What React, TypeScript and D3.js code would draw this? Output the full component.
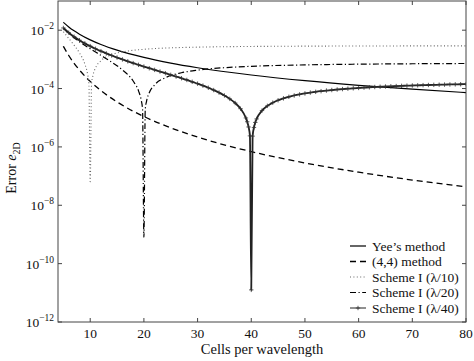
import React from "react";
import * as d3 from "d3";

// ---------- data ----------
const N_YEE = [5, 6, 7, 8, 10, 12, 15, 20, 25, 30, 40, 50, 60, 70, 80];
const E_YEE = [1.86e-2, 1.292e-2, 9.49e-3, 7.27e-3, 4.65e-3, 3.23e-3, 2.067e-3, 1.163e-3, 7.44e-4, 5.17e-4, 2.91e-4, 1.86e-4, 1.29e-4, 9.49e-5, 7.27e-5];

const N_44 = [5, 6, 7, 8, 10, 12, 15, 20, 25, 30, 40, 50, 60, 70, 80];
const E_44 = [2.816e-3, 1.358e-3, 7.33e-4, 4.3e-4, 1.76e-4, 8.49e-5, 3.48e-5, 1.1e-5, 4.51e-6, 2.17e-6, 6.88e-7, 2.82e-7, 1.36e-7, 7.33e-8, 4.3e-8];

const N_S10 = [5, 6, 7, 8, 9, 9.5, 9.75, 10, 10.25, 10.5, 11, 12, 14, 17, 20, 25, 30, 40, 60, 80];
const E_S10 = [8.85e-3, 5.24e-3, 3.07e-3, 1.66e-3, 6.92e-4, 3.19e-4, 1.53e-4, 5.7e-8, 1.42e-4, 2.74e-4, 5.12e-4, 9.01e-4, 1.445e-3, 1.93e-3, 2.21e-3, 2.48e-3, 2.62e-3, 2.77e-3, 2.87e-3, 2.9e-3];

const N_S20 = [5, 6, 7, 8, 10, 12, 14, 16, 18, 19, 19.5, 19.75, 20, 20.25, 20.5, 21, 22, 24, 27, 30, 35, 40, 50, 60, 70, 80];
const E_S20 = [1.155e-2, 7.79e-3, 5.52e-3, 4.04e-3, 2.31e-3, 1.37e-3, 8.02e-4, 4.33e-4, 1.81e-4, 8.32e-5, 4.0e-5, 1.96e-5, 8.1e-10, 1.89e-5, 3.71e-5, 7.16e-5, 1.34e-4, 2.35e-4, 3.47e-4, 4.28e-4, 5.19e-4, 5.78e-4, 6.47e-4, 6.84e-4, 7.07e-4, 7.22e-4];

const N_S40 = [5, 6, 7, 8, 9, 10, 11, 12, 13, 14, 15, 16, 17, 18, 19, 20, 21, 22, 23, 24, 25, 26, 27, 28, 29, 30, 31, 32, 33, 34, 35, 36, 37, 38, 39, 39.25, 39.5, 39.75, 40, 40.25, 40.5, 40.75, 41, 42, 43, 44, 45, 46, 47, 48, 49, 50, 51, 52, 53, 54, 55, 56, 57, 58, 59, 60, 61, 62, 63, 64, 65, 66, 67, 68, 69, 70, 71, 72, 73, 74, 75, 76, 77, 78, 79, 80];
const E_S40 = [1.191e-2, 8.21e-3, 5.98e-3, 4.54e-3, 3.54e-3, 2.84e-3, 2.31e-3, 1.91e-3, 1.6e-3, 1.354e-3, 1.155e-3, 9.92e-4, 8.57e-4, 7.44e-4, 6.49e-4, 5.67e-4, 4.97e-4, 4.36e-4, 3.83e-4, 3.36e-4, 2.95e-4, 2.58e-4, 2.26e-4, 1.97e-4, 1.7e-4, 1.47e-4, 1.257e-4, 1.063e-4, 8.87e-5, 7.26e-5, 5.78e-5, 4.43e-5, 3.19e-5, 2.04e-5, 9.81e-6, 7.29e-6, 4.82e-6, 2.39e-6, 1.26e-11, 2.34e-6, 4.64e-6, 6.89e-6, 9.11e-6, 1.757e-5, 2.55e-5, 3.28e-5, 3.97e-5, 4.61e-5, 5.21e-5, 5.78e-5, 6.31e-5, 6.8e-5, 7.27e-5, 7.72e-5, 8.13e-5, 8.53e-5, 8.9e-5, 9.26e-5, 9.59e-5, 9.91e-5, 1.021e-4, 1.05e-4, 1.077e-4, 1.103e-4, 1.128e-4, 1.152e-4, 1.174e-4, 1.196e-4, 1.216e-4, 1.236e-4, 1.255e-4, 1.273e-4, 1.29e-4, 1.307e-4, 1.323e-4, 1.338e-4, 1.352e-4, 1.366e-4, 1.38e-4, 1.393e-4, 1.405e-4, 1.418e-4];

const X_TICKS = [10, 20, 30, 40, 50, 60, 70, 80];
const Y_TICK_EXP = [-12, -10, -8, -6, -4, -2];
const LEGEND_LABELS = ["Yee\u2019s method", "(4,4) method", "Scheme I (\u03bb/10)", "Scheme I (\u03bb/20)", "Scheme I (\u03bb/40)"];

// ---------- layout ----------
const W = 474;
const H = 361;
const L = 58, R = 466, T = 1, B = 322;
const FONT = "'Liberation Serif', 'Times New Roman', serif";

type Style = { stroke: string; width: number; dash?: string; marker?: boolean };
const STYLES: Style[] = [
  { stroke: "#000", width: 1.2 },
  { stroke: "#000", width: 1.3, dash: "6,4" },
  { stroke: "#666", width: 1.1, dash: "1,2.4" },
  { stroke: "#000", width: 1.2, dash: "6,2.5,1.2,2.5" },
  { stroke: "#222", width: 1.8, marker: true },
];

export default function App() {
  const x = d3.scaleLinear().domain([4, 80]).range([L, R]);
  const y = d3.scaleLog().domain([1e-12, 1e-1]).range([B, T]);

  const series = [
    { n: N_YEE, e: E_YEE },
    { n: N_44, e: E_44 },
    { n: N_S10, e: E_S10 },
    { n: N_S20, e: E_S20 },
    { n: N_S40, e: E_S40 },
  ];

  const line = d3
    .line<[number, number]>()
    .x((d) => x(d[0]))
    .y((d) => y(d[1]))
    .curve(d3.curveMonotoneX);

  const tick = 4;
  const legX0 = 350, legX1 = 366, legText = 372;
  const legY = [246, 261.5, 277, 292.5, 308];

  return (
    <svg
      width={W}
      height={H}
      style={{ position: "absolute", left: 0, top: 0, background: "#fff" }}
      fontFamily={FONT}
    >
      <rect x={0} y={0} width={W} height={H} fill="#fff" />
      <defs>
        <clipPath id="plotclip">
          <rect x={L} y={T} width={R - L} height={B - T} />
        </clipPath>
      </defs>

      {/* curves */}
      <g clipPath="url(#plotclip)">
        {series.map((s, i) => {
          const pts: [number, number][] = s.n.map((v, j) => [v, s.e[j]]);
          const st = STYLES[i];
          return (
            <g key={i}>
              <path d={line(pts) || ""} fill="none" stroke={st.stroke} strokeWidth={st.width} strokeDasharray={st.dash} />
              {st.marker &&
                pts.map((p, j) => (
                  <path
                    key={j}
                    d={`M${x(p[0]) - 2.2},${y(p[1])}H${x(p[0]) + 2.2}M${x(p[0])},${y(p[1]) - 2.2}V${y(p[1]) + 2.2}`}
                    stroke="#333"
                    strokeWidth={0.8}
                  />
                ))}
            </g>
          );
        })}
      </g>

      {/* frame */}
      <rect x={L} y={T} width={R - L} height={B - T} fill="none" stroke="#444" strokeWidth={1} />

      {/* x ticks */}
      {X_TICKS.map((t) => (
        <g key={"x" + t}>
          <line x1={x(t)} x2={x(t)} y1={B} y2={B - tick} stroke="#444" />
          <line x1={x(t)} x2={x(t)} y1={T} y2={T + tick} stroke="#444" />
          <text x={x(t)} y={338} textAnchor="middle" fontSize={13.5} fill="#111">
            {t}
          </text>
        </g>
      ))}

      {/* y ticks */}
      {Y_TICK_EXP.map((p) => {
        const yy = y(Math.pow(10, p));
        return (
          <g key={"y" + p}>
            <line x1={L} x2={L + tick} y1={yy} y2={yy} stroke="#444" />
            <line x1={R} x2={R - tick} y1={yy} y2={yy} stroke="#444" />
            <text x={54} y={yy + 5} textAnchor="end" fontSize={13.5} fill="#111">
              10
              <tspan dy={-6} fontSize={9.5}>
                {"\u2212" + Math.abs(p)}
              </tspan>
            </text>
          </g>
        );
      })}

      {/* axis labels */}
      <text x={262} y={354} textAnchor="middle" fontSize={14.5} fill="#111">
        Cells per wavelength
      </text>
      <text transform="translate(16,168) rotate(-90)" textAnchor="middle" fontSize={14} fill="#111">
        Error <tspan fontStyle="italic">e</tspan>
        <tspan dy={4} fontSize={10}>2D</tspan>
      </text>

      {/* legend */}
      {LEGEND_LABELS.map((lab, i) => {
        const st = STYLES[i];
        const yy = legY[i];
        return (
          <g key={"l" + i}>
            <line x1={legX0} x2={legX1} y1={yy} y2={yy} stroke={st.stroke} strokeWidth={st.marker ? 1 : st.width} strokeDasharray={st.dash} />
            {st.marker && (
              <path d={`M${(legX0 + legX1) / 2 - 2.2},${yy}H${(legX0 + legX1) / 2 + 2.2}M${(legX0 + legX1) / 2},${yy - 2.2}V${yy + 2.2}`} stroke="#333" strokeWidth={0.8} />
            )}
            <text x={legText} y={yy + 4.5} fontSize={13.5} fill="#111">
              {lab}
            </text>
          </g>
        );
      })}
    </svg>
  );
}
